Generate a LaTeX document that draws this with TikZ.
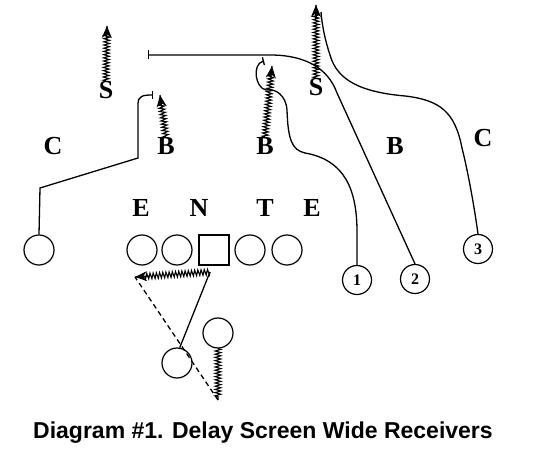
\documentclass[tikz,border=0pt]{standalone}
\usepackage{fontspec}
\setmainfont{Liberation Serif}
\setsansfont{Liberation Sans}
\usetikzlibrary{decorations.pathmorphing,arrows.meta,calc}
\begin{document}
\begin{tikzpicture}[x=1pt,y=-1pt,
  player/.style={draw,circle,minimum size=30pt,inner sep=0pt,line width=1.2pt},
  numbered/.style={player,minimum size=29pt,font=\bfseries\fontsize{16}{16}\selectfont},
  centerbox/.style={draw,rectangle,minimum size=30pt,inner sep=0pt,line width=1.2pt},
  defender/.style={font=\bfseries\fontsize{26}{26}\selectfont,inner sep=0pt},
  route/.style={line width=1.3pt},
  wiggle/.style={line width=1.1pt,decorate,decoration={zigzag,segment length=3.2pt,amplitude=2.8pt,post length=8pt}},
  headline/.style={line width=1.1pt,-{Stealth[length=12pt,width=10pt]}},
  blockstart/.style={{Bar[width=9pt]}-},
  blockend/.style={-{Bar[width=8pt]}}
]
\path[use as bounding box] (0,0) rectangle (536,462);

% offense
\node[player] (wr) at (39,250) {};
\node[player] (lt) at (142,250) {};
\node[player] (lg) at (177,250) {};
\node[centerbox] (c) at (214,250) {};
\node[player] (rg) at (250,250) {};
\node[player] (rt) at (287,250) {};
\node[player] (rb) at (177,363) {};
\node[player] (qb) at (218,333) {};
\node[numbered] (r1) at (357,280) {1};
\node[numbered] (r2) at (415,279) {2};
\node[numbered] (r3) at (478,249) {3};

% defense
\node[defender] (sL) at (106,90) {S};
\node[defender] (sR) at (316,87) {S};
\node[defender] (cL) at (53,146) {C};
\node[defender] (bL) at (166,146) {B};
\node[defender] (bM) at (265,146) {B};
\node[defender] (bR) at (395,146) {B};
\node[defender] (cR) at (483,138) {C};
\node[defender] (eL) at (141,208) {E};
\node[defender] (nt) at (199,208) {N};
\node[defender] (tk) at (265,208) {T};
\node[defender] (eR) at (312,208) {E};

% coordinates
\coordinate (sLend) at (107,26);
\coordinate (sRend) at (316,5);
\coordinate (bLend) at (160,95);
\coordinate (bMend) at (272,66);
\coordinate (pt) at (210,272);
\coordinate (catch) at (135,277);
\coordinate (drop) at (218,400);

% defender movement
\draw[wiggle] (sL.north) -- (sLend);
\draw[headline] ($(sLend)!14pt!(sL.north)$) -- (sLend);
\draw[wiggle] (sR.north) -- (sRend);
\draw[headline] ($(sRend)!14pt!(sR.north)$) -- (sRend);
\draw[wiggle] (bL.north) -- (bLend);
\draw[headline] ($(bLend)!14pt!(bL.north)$) -- (bLend);
\draw[wiggle] (bM.north) -- (bMend);
\draw[headline] ($(bMend)!14pt!(bM.north)$) -- (bMend);

% receiver routes
\draw[route,blockend] (wr.north) -- (40,188) -- (138,158) -- (138,104)
  .. controls (138,96) and (143,95) .. (153,95);
\draw[route,blockstart] (148,55) -- (270,55)
  .. controls (305,55) and (328,68) .. (337,93) -- (r2.north);
\draw[route,blockend] (r1.north) -- (357,232)
  .. controls (357,190) and (345,160) .. (305,153)
  .. controls (292,150) and (288,140) .. (287,110)
  .. controls (286,95) and (275,88) .. (266,90)
  .. controls (255,88) and (252,64) .. (264,61);
\draw[route] (r3.north) .. controls (474,205) and (468,172) .. (462,148)
  .. controls (455,112) and (440,100) .. (405,96)
  .. controls (360,92) and (337,80) .. (330,55)
  .. controls (325,40) and (322,25) .. (321,12);

% backfield
\draw[route] (rb.80) -- (pt);
\draw[wiggle] (pt) -- (catch);
\draw[headline] ($(catch)!14pt!(pt)$) -- (catch);
\draw[wiggle,decoration={post length=2pt}] (qb.south) -- (drop);
\draw[route,dashed,dash pattern=on 5pt off 3.5pt] (drop) -- (catch);

% caption
\node[font=\sffamily\bfseries\fontsize{23}{28}\selectfont] (cap) at (263,433) {Diagram \#1. Delay Screen Wide Receivers};
\end{tikzpicture}
\end{document}
